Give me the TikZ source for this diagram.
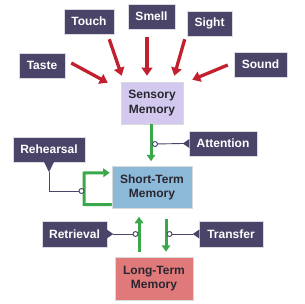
\documentclass[tikz,border=0pt]{standalone}
\usepackage{fontspec}
\setmainfont{Liberation Sans}
\usetikzlibrary{arrows.meta,calc}
\definecolor{darkbox}{HTML}{4A4568}
\definecolor{sensfill}{HTML}{D3C9EE}
\definecolor{stmfill}{HTML}{8DB9D9}
\definecolor{ltmfill}{HTML}{E07A7A}
\definecolor{redarr}{HTML}{C3202F}
\definecolor{greenarr}{HTML}{3AA84A}
\definecolor{txtdark}{HTML}{2A2630}
\begin{document}
\begin{tikzpicture}[x=1pt,y=-1pt,
  every node/.style={font=\fontsize{12}{14.5}\selectfont\bfseries, inner sep=0pt, align=center},
  sense/.style={fill=darkbox, draw=white!80!darkbox, line width=0.5pt, text=white, minimum height=25pt},
  mem/.style={draw=white!70!gray, line width=0.5pt, text=txtdark, minimum height=42pt},
  redline/.style={draw=redarr, line width=3.3pt, -{Triangle[width=10.5pt,length=8pt]}},
  greenline/.style={draw=greenarr, line width=3pt, -{Triangle[width=8.5pt,length=6.5pt]}},
  pointer/.style={fill=darkbox},
  conn/.style={draw=darkbox, line width=0.9pt},
  knob/.style={circle, draw=darkbox, fill=white, line width=0.9pt, minimum size=5pt}
]
\useasboundingbox (0,0) rectangle (304,304);
% sense boxes
\node[sense, minimum width=50pt] (touch) at (89,21.5) {Touch};
\node[sense, minimum width=47pt] (smell) at (151.5,16.5) {Smell};
\node[sense, minimum width=45pt] (sight) at (209.5,23.5) {Sight};
\node[sense, minimum width=46pt] (taste) at (42,65.5) {Taste};
\node[sense, minimum width=53pt] (sound) at (260.5,64.5) {Sound};
% memories
\node[mem, fill=sensfill, minimum width=62pt] (sensory) at (152,103) {Sensory\\Memory};
\node[mem, fill=stmfill, minimum width=80pt] (stm) at (152,187.5) {Short-Term\\Memory};
\node[mem, fill=ltmfill, minimum width=78pt, minimum height=43pt] (ltm) at (154,278.5) {Long-Term\\Memory};
% process boxes
\node[sense, minimum width=68pt] (attention) at (223,143.5) {Attention};
\node[sense, minimum width=72pt] (rehearsal) at (49,149.5) {Rehearsal};
\node[sense, minimum width=65pt, minimum height=26pt] (retrieval) at (74.5,234) {Retrieval};
\node[sense, minimum width=64pt, minimum height=26pt] (transfer) at (231,234) {Transfer};
% red arrows
\draw[redline] ($(taste.east)+(6,-2.5)$) -- ($(sensory.north west)+(-13,1)$);
\draw[redline] ($(touch.south east)+(-5,5)$) -- ($(sensory.north west)+(1,-6)$);
\draw[redline] ($(smell.south)+(-4.5,8)$) -- ($(sensory.north)+(-5,-6)$);
\draw[redline] ($(sight.south west)+(-2,3)$) -- ($(sensory.north east)+(-9,-6)$);
\draw[redline] ($(sound.west)+(-6,0.5)$) -- ($(sensory.north east)+(9,-2)$);
% green arrows
\draw[greenline] ($(sensory.south)+(-1,0)$) -- ($(stm.north)+(-1,-5)$);
\draw[greenline] ($(stm.south west)+(0,-4)$) -- (84,204.5) -- (84,173) -- ($(stm.north west)+(-2,6.5)$);
\draw[greenline] ($(ltm.north)+(-15,-5)$) -- ($(stm.south)+(-13,8)$);
\draw[greenline] ($(stm.south)+(14,10)$) -- ($(ltm.north)+(12,-5)$);
% attention connector
\coordinate (attk) at (155,144);
\fill[pointer] ($(attention.west)+(0.5,-4.5)$) -- ($(attention.west)+(-6,0)$) -- ($(attention.west)+(0.5,4.5)$) -- cycle;
\draw[conn] (attk) -- ($(attention.west)+(-6,0)$);
\node[knob] at (attk) {};
% rehearsal connector
\coordinate (rehk) at (81.5,191);
\fill[pointer] ($(rehearsal.south)+(-5,-0.5)$) -- ($(rehearsal.south)+(0,10)$) -- ($(rehearsal.south)+(5,-0.5)$) -- cycle;
\draw[conn] ($(rehearsal.south)+(0,10)$) |- (rehk);
\node[knob] at (rehk) {};
% retrieval connector
\coordinate (retk) at (135.5,234);
\fill[pointer] ($(retrieval.east)+(-0.5,-4.5)$) -- ($(retrieval.east)+(6,0)$) -- ($(retrieval.east)+(-0.5,4.5)$) -- cycle;
\draw[conn] ($(retrieval.east)+(6,0)$) -- (retk);
\node[knob] at (retk) {};
% transfer connector
\coordinate (trak) at (169.5,234);
\fill[pointer] ($(transfer.west)+(0.5,-4.5)$) -- ($(transfer.west)+(-6,0)$) -- ($(transfer.west)+(0.5,4.5)$) -- cycle;
\draw[conn] (trak) -- ($(transfer.west)+(-6,0)$);
\node[knob] at (trak) {};
\end{tikzpicture}
\end{document}
